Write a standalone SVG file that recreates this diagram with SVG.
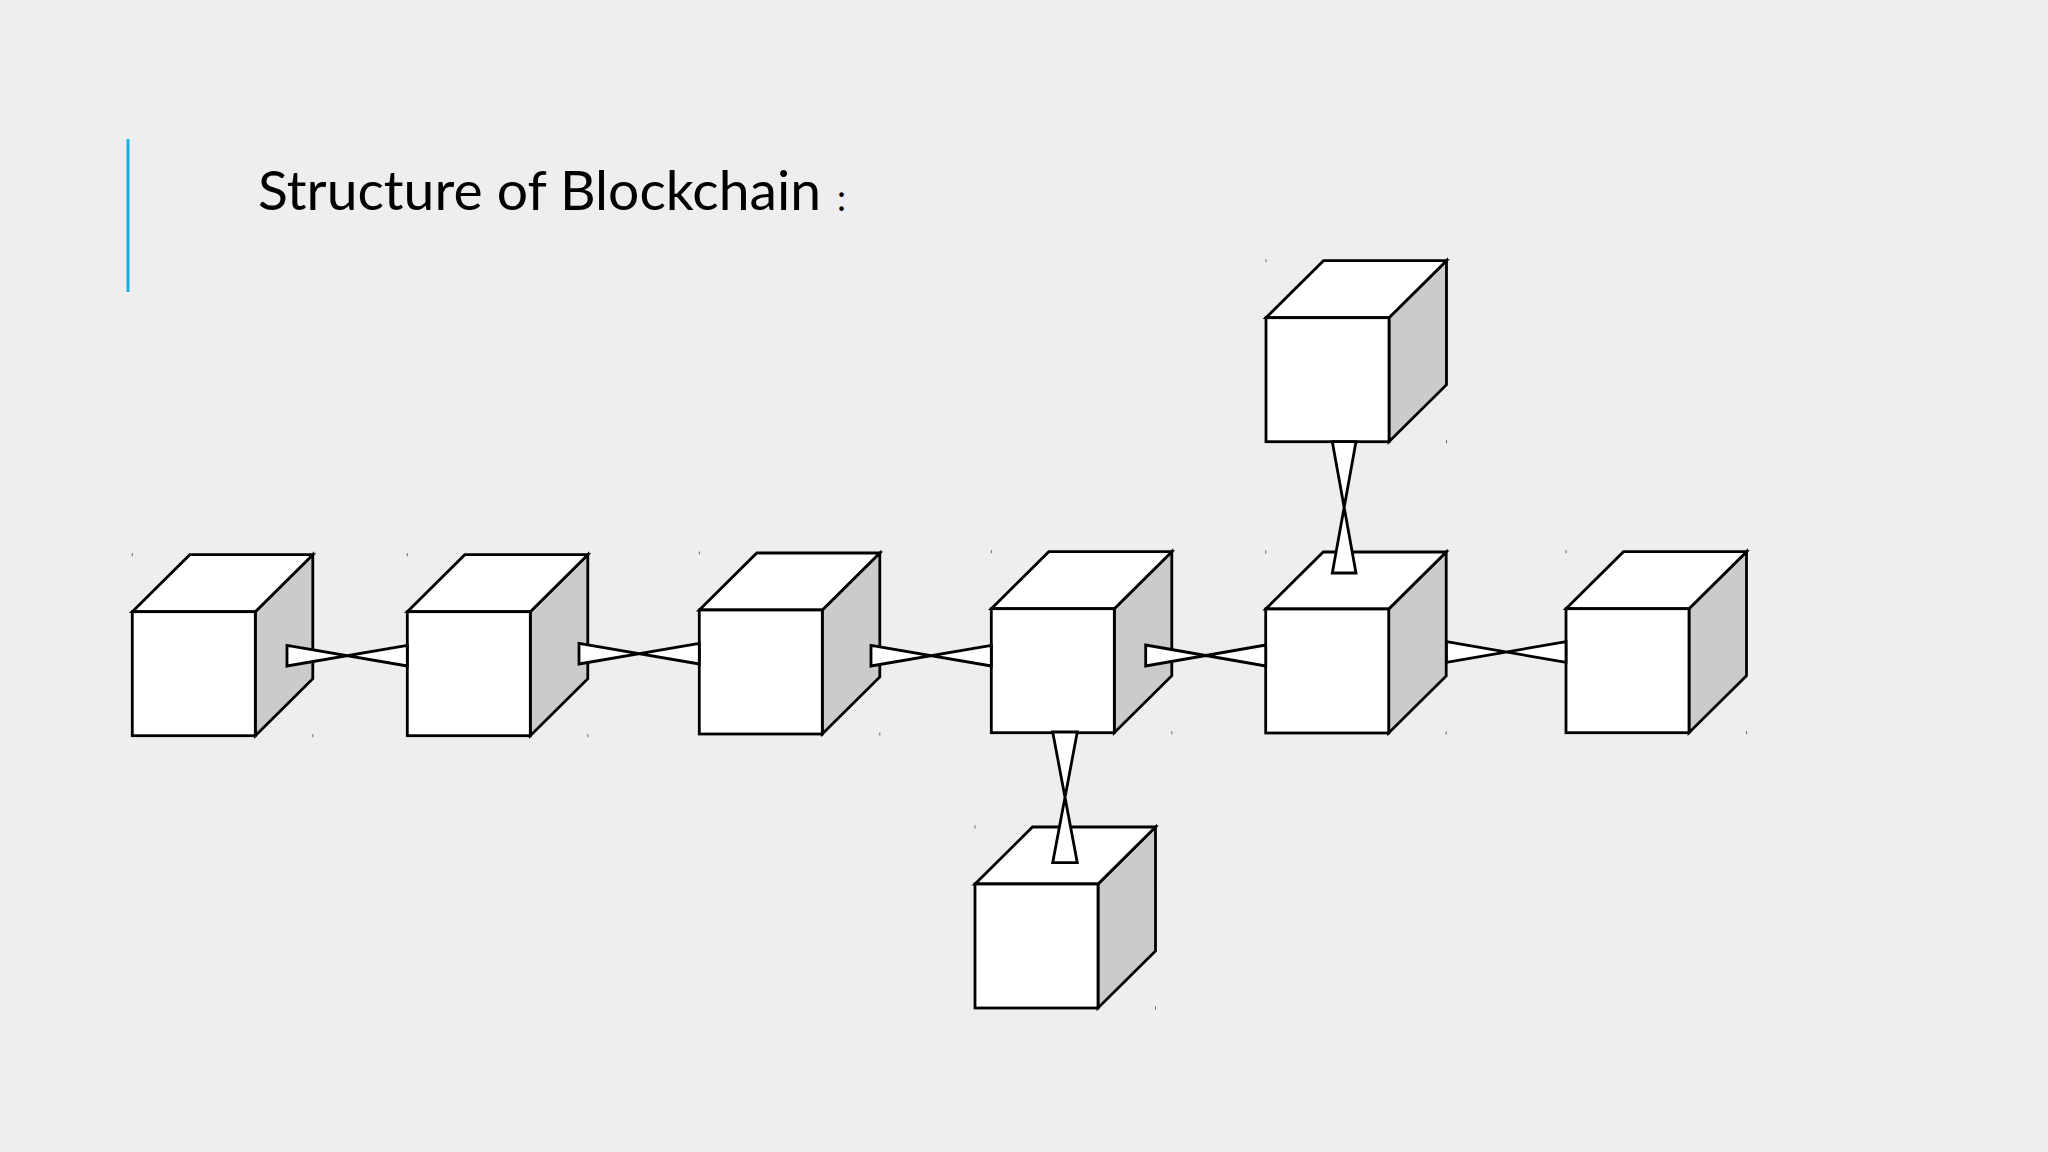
<svg xmlns="http://www.w3.org/2000/svg" xmlns:xlink="http://www.w3.org/1999/xlink" width="2048" height="1152" viewBox="0 0 2048 1152">
<style>
.f{fill:#fff;stroke:#000;stroke-width:2.8;stroke-linejoin:miter}
.s{fill:#cbcbce;stroke:#000;stroke-width:2.8;stroke-linejoin:miter}
.t{fill:#666}
.c{fill:#fff;stroke:#000;stroke-width:2.8;stroke-linejoin:miter}
.title{font-family:"Lato","Open Sans",sans-serif;fill:#000}
</style>
<defs>
<g id="cube">
<path class="s" d="M123 124V0L180.5-57V67Z"/>
<path class="f" d="M0 0L57.5-57H180.5L123 0Z"/>
<rect class="f" x="0" y="0" width="123" height="124"/>
<rect class="t" x="-.5" y="-58.5" width="1" height="3"/>
<rect class="t" x="180" y="122.5" width="1" height="3"/>
</g>
</defs>
<rect width="2048" height="1152" fill="#eeeef0"/>
<rect x="126.5" y="139" width="3" height="153" fill="#1cade4"/>
<text id="title" class="title" x="258" y="210" font-size="55" textLength="563" lengthAdjust="spacingAndGlyphs">Structure of Blockchain</text>
<text id="title-colon" class="title" x="837" y="210.5" font-size="36">:</text>
<g id="cube1"><use href="#cube" x="132.3" y="611.7"/></g>
<g id="cube2"><use href="#cube" x="407.3" y="611.7"/></g>
<g id="cube3"><use href="#cube" x="699.3" y="610"/></g>
<g id="cube4"><use href="#cube" x="991.3" y="608.7"/></g>
<g id="cube5"><use href="#cube" x="1265.7" y="609"/></g>
<g id="cube6"><use href="#cube" x="1566" y="608.7"/></g>
<g id="cube-top"><use href="#cube" x="1266" y="317.7"/></g>
<g id="cube-bottom"><use href="#cube" x="975" y="884"/></g>
<g id="connectors">
<polygon class="c" points="287,645.3 407.3,666 407.3,645.3 287,666"/>
<polygon class="c" points="579,643.3 699.3,664 699.3,643.3 579,664"/>
<polygon class="c" points="871,645.3 991.3,666 991.3,645.3 871,666"/>
<polygon class="c" points="1145.7,645 1265.7,666 1265.7,645 1145.7,666"/>
<polygon class="c" points="1446.5,641.7 1566,662.3 1566,641.7 1446.5,662.3"/>
<polygon class="c" points="1332.3,441.7 1356,573 1332.3,573 1356,441.7"/>
<polygon class="c" points="1052.7,732 1077.3,862.7 1052.7,862.7 1077.3,732"/>
</g>
</svg>
